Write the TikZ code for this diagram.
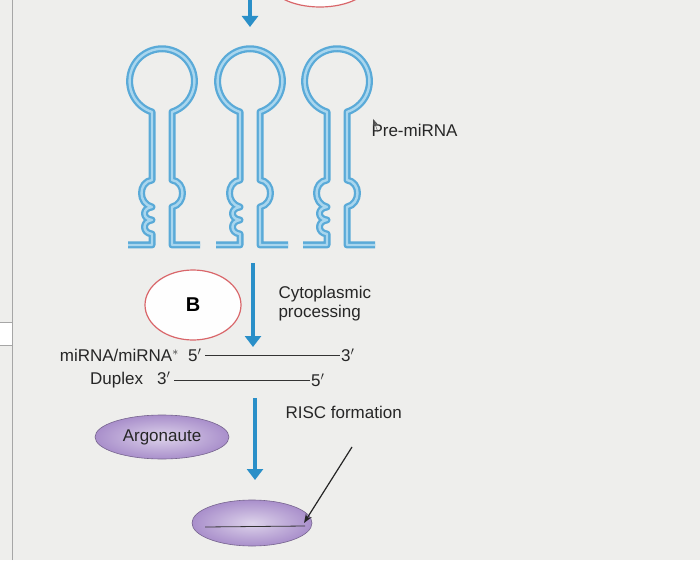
\documentclass[tikz,border=0pt]{standalone}
\usepackage{fontspec}
\setmainfont{Liberation Sans}
\usetikzlibrary{arrows.meta,shapes.geometric}
\definecolor{rna}{HTML}{5AAAD8}
\definecolor{rnain}{HTML}{A9D6EE}
\definecolor{arr}{HTML}{2A8FC8}
\definecolor{bg}{HTML}{EEEEEC}
\definecolor{redc}{HTML}{D9666A}
\definecolor{purp}{HTML}{A98FCB}
\tikzset{
  strand/.style={draw=rna,line width=7pt},
  strandin/.style={draw=rnain,line width=2.4pt},
  bigarrow/.style={draw=arr,line width=3.2pt,-{Triangle[length=11pt,width=16pt]}},
  lbl/.style={font=\fontsize{17}{19}\selectfont,text=black!85},
  ell/.style={draw=redc,line width=1.2pt,fill=white!95!bg},
  argo/.style={draw=purp!70!black,line width=0.6pt,inner color=purp!40!white,outer color=purp},
}
\begin{document}
\begin{tikzpicture}[x=1pt,y=1pt]
\fill[bg] (0,0) rectangle (700,560);
\useasboundingbox (0,0) rectangle (700,560);
\draw[gray!70,line width=1pt] (12,0) -- (12,560);
\draw[gray!70,fill=white,line width=0.8pt] (-2,215) rectangle (12,238);
\begin{scope}
\clip (0,0) rectangle (700,560);
\node[ell,ellipse,minimum width=100pt,minimum height=50pt,inner sep=0pt] (topE) at (320,578) {};
\end{scope}
\foreach \cx in {162,250,337}{
  \foreach \st in {strand,strandin}{
  \draw[\st,line join=round] (\cx-34,315) -- (\cx-10,315) -- (\cx-10,326)
     .. controls (\cx-20,327) and (\cx-20,339) .. (\cx-10,340)
     .. controls (\cx-20,341) and (\cx-20,352) .. (\cx-10,353)
     .. controls (\cx-24,356) and (\cx-24,378) .. (\cx-10,380)
     -- (\cx-10,448) arc[start angle=252,end angle=-72,radius=32.4]
     -- (\cx+10,380)
     .. controls (\cx+24,378) and (\cx+24,356) .. (\cx+10,353)
     -- (\cx+10,315) -- (\cx+38,315);
  }
}
\coordinate (t1) at (250,560);
\coordinate (t2) at (250,533);
\draw[bigarrow] (t1) -- (t2);
\node[lbl,anchor=west] (pre) at (368,430) {Pre-miRNA};
\draw[black!70,-{Stealth[length=7pt]}] (378,428) -- (373,441);
\node[ell,ellipse,minimum width=96pt,minimum height=70pt,font=\bfseries\fontsize{20}{22}\selectfont] (B) at (193,255) {B};
\coordinate (a1) at (253,297);
\coordinate (a2) at (253,213);
\draw[bigarrow] (a1) -- (a2);
\node[lbl,anchor=west,align=left] (cyto) at (275,256) {Cytoplasmic\\processing};
\node[lbl,anchor=east] (mm) at (205,205) {miRNA/miRNA$^{*}$\ \ 5$'$};
\node[lbl,anchor=east] (dup) at (174,180) {Duplex\ \ \ 3$'$};
\node[lbl,anchor=west,inner sep=1pt] (e1) at (340,205) {3$'$};
\node[lbl,anchor=west,inner sep=1pt] (e2) at (310,180) {5$'$};
\draw[black!80,line width=0.9pt] (mm.east) -- (e1.west);
\draw[black!80,line width=0.9pt] (dup.east) -- (e2.west);
\coordinate (b1) at (255,162);
\coordinate (b2) at (255,80);
\draw[bigarrow] (b1) -- (b2);
\node[lbl,anchor=west] (risc) at (282,148) {RISC formation};
\node[argo,ellipse,minimum width=134pt,minimum height=44pt,lbl] (argon) at (162,123) {Argonaute};
\node[argo,ellipse,minimum width=120pt,minimum height=46pt] (risc2) at (252,37) {};
\draw[black!80,line width=0.8pt] ([xshift=-47pt,yshift=-4pt]risc2.center) -- ([xshift=53pt,yshift=-3pt]risc2.center);
\coordinate (p1) at (352,113);
\draw[black!85,line width=1.2pt,-{Stealth[length=9pt]}] (p1) -- ([xshift=52pt,yshift=0pt]risc2.center);
\end{tikzpicture}
\end{document}
